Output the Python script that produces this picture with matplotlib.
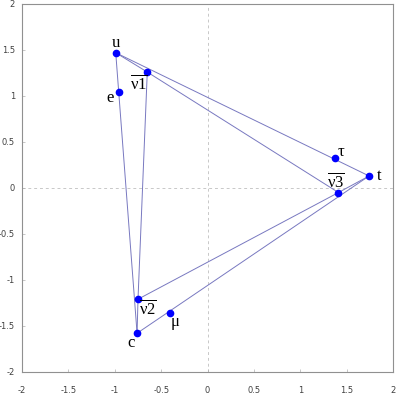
import matplotlib.pyplot as plt

plt.rcParams['mathtext.fontset'] = 'custom'
plt.rcParams['mathtext.rm'] = 'Liberation Serif'
plt.rcParams['mathtext.it'] = 'Liberation Serif'
plt.rcParams['mathtext.bf'] = 'Liberation Serif:bold'

# points: name -> (x, y)
names = ["u", "nu1", "e", "tau", "t", "nu3", "nu2", "mu", "c"]
xs = [-0.99, -0.65, -0.95, 1.37, 1.74, 1.41, -0.75, -0.41, -0.76]
ys = [1.47, 1.26, 1.04, 0.33, 0.13, -0.05, -1.21, -1.36, -1.58]
labels = ["u", r"$\overline{\nu 1}$", "e", r"$\tau$", "t",
          r"$\overline{\nu 3}$", r"$\overline{\nu 2}$", r"$\mu$", "c"]

# segments between named points
edges = [("u", "t"), ("t", "c"), ("c", "u"),
         ("nu1", "nu3"), ("nu3", "nu2"), ("nu2", "nu1"),
         ("u", "nu1"), ("t", "nu3"), ("c", "nu2")]

ticks = [-2, -1.5, -1, -0.5, 0, 0.5, 1, 1.5, 2]
tick_labels = ["-2", "-1.5", "-1", "-0.5", "0", "0.5", "1", "1.5", "2"]

pos = {n: (x, y) for n, x, y in zip(names, xs, ys)}

fig = plt.figure(figsize=(4.0, 3.99), dpi=100)
ax = fig.add_axes([0.055, 0.068, 0.928, 0.922])

ax.axhline(0, color="#c8c8c8", lw=0.7, ls=(0, (3, 3)), zorder=0)
ax.axvline(0, color="#c8c8c8", lw=0.7, ls=(0, (3, 3)), zorder=0)

for a, b in edges:
    ax.plot([pos[a][0], pos[b][0]], [pos[a][1], pos[b][1]],
            color="#7878c0", lw=0.7, zorder=1)

ax.plot(xs, ys, "o", color="#0000ff", ms=4.5, zorder=3, lw=0)

# label offsets in points
offsets = {"u": (0, 7), "nu1": (-6, -8), "e": (-7, -4), "tau": (5, 4), "t": (7, 0),
           "nu3": (-2, 8), "nu2": (7, -7), "mu": (4, -8), "c": (-4, -7)}
for n, lab in zip(names, labels):
    dx, dy = offsets[n]
    ax.annotate(lab, pos[n], xytext=(dx, dy), textcoords="offset points",
                ha="center", va="center", fontsize=12, family="Liberation Serif")

ax.set_xlim(-2, 2)
ax.set_ylim(-2, 2)
ax.set_xticks(ticks)
ax.set_xticklabels(tick_labels)
ax.set_yticks(ticks)
ax.set_yticklabels(tick_labels)
ax.tick_params(direction="in", length=2, width=0.5, colors="#b0b0b0",
               labelcolor="#404040", labelsize=6, pad=10)
ax.tick_params(axis="y", pad=5)
for s in ax.spines.values():
    s.set_color("#909090")
    s.set_linewidth(0.8)

fig.savefig("out.png", dpi=100)
